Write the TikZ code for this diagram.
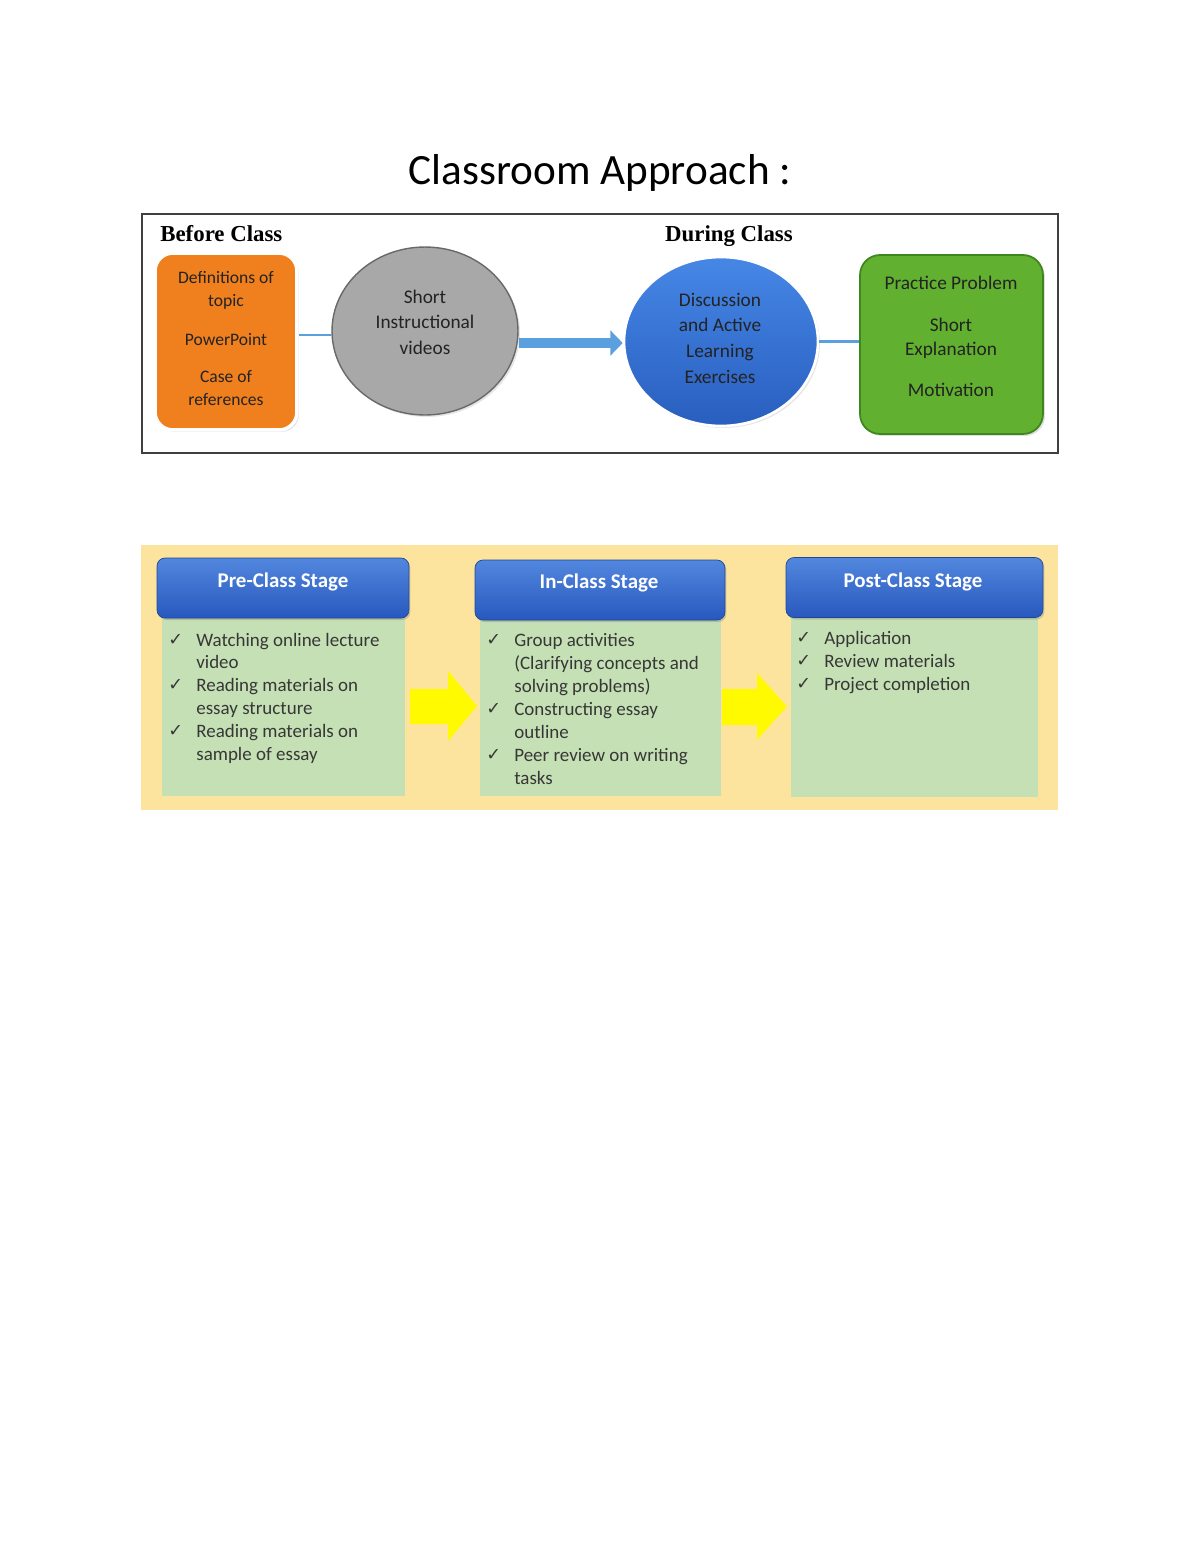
\documentclass[tikz,border=0pt]{standalone}
\usepackage{fontspec}
\setmainfont{Carlito}
\newfontfamily\serifb{Liberation Serif}
\newfontfamily\djv{DejaVu Sans}
\usetikzlibrary{shapes.geometric,arrows.meta,shadows}
\definecolor{orangebox}{RGB}{240,128,30}
\definecolor{grayell}{RGB}{168,168,168}
\definecolor{grayedge}{RGB}{105,105,105}
\definecolor{blueell}{RGB}{45,105,212}
\definecolor{blueelltop}{RGB}{70,135,230}
\definecolor{greenbox}{RGB}{98,176,48}
\definecolor{greenedge}{RGB}{62,135,30}
\definecolor{linkblue}{RGB}{90,160,222}
\definecolor{bgyellow}{RGB}{253,228,158}
\definecolor{bodygreen}{RGB}{197,224,180}
\definecolor{headtop}{RGB}{82,135,222}
\definecolor{headbot}{RGB}{40,88,190}
\definecolor{arrowyellow}{RGB}{255,250,0}
\definecolor{txt}{RGB}{35,35,35}
\definecolor{itemtxt}{RGB}{55,55,55}
\begin{document}
\begin{tikzpicture}[x=0.02cm,y=-0.02cm,
  tl/.style={inner sep=0,anchor=base,text=txt,font=\fontsize{11}{13}\selectfont},
  tlo/.style={tl,font=\fontsize{10}{12}\selectfont},
  stagehead/.style={inner sep=0,anchor=base,text=white,font=\fontsize{11.9}{14}\selectfont\bfseries},
  item/.style={inner sep=0,anchor=base west,text=itemtxt,font=\fontsize{10.8}{13}\selectfont},
  chk/.style={inner sep=0,anchor=base west,text=itemtxt,font=\djv\fontsize{10}{12}\selectfont},
  hdr/.style={rounded corners=0.16cm,top color=headtop,bottom color=headbot,draw=headbot!80!black,line width=0.4pt,drop shadow={opacity=0.35,shadow xshift=0.3mm,shadow yshift=-0.4mm},minimum height=1.2cm,inner sep=0},
  body/.style={fill=bodygreen,inner sep=0,minimum height=3.56cm},
  yarrow/.style={fill=arrowyellow}
]
\useasboundingbox (0,0) rectangle (1200,1553);

% title
\node[inner sep=0,anchor=base,font=\fontsize{24.6}{29}\selectfont] (title) at (600,184) {Classroom Approach :};

% ---------- top frame ----------
\draw[line width=0.8pt,draw=black!75] (142,214) rectangle (1058,453);
\node[inner sep=0,anchor=base west,font=\serifb\bfseries\fontsize{13}{15}\selectfont] (before) at (160,241) {Before Class};
\node[inner sep=0,anchor=base,font=\serifb\bfseries\fontsize{13}{15}\selectfont] (during) at (729,241) {During Class};

\node[rounded corners=0.36cm,fill=orangebox,draw=white,line width=2pt,minimum width=2.84cm,minimum height=3.54cm,inner sep=0,drop shadow={opacity=0.25,shadow xshift=0.4mm,shadow yshift=-0.4mm}] (defs) at (226,341.5) {};
\node[tlo] (d1) at (226,283) {Definitions of};
\node[tlo] (d2) at (226,306) {topic};
\node[tlo] (d3) at (226,345) {PowerPoint};
\node[tlo] (d4) at (226,382) {Case of};
\node[tlo] (d5) at (226,405) {references};

\node[ellipse,fill=grayell,draw=grayedge,line width=0.8pt,minimum width=3.72cm,minimum height=3.36cm,inner sep=0,drop shadow={opacity=0.2,shadow xshift=0.4mm,shadow yshift=-0.4mm}] (vid) at (425,331) {};
\node[tl] (v1) at (425,303) {Short};
\node[tl] (v2) at (425,328) {Instructional};
\node[tl] (v3) at (425,354) {videos};

\node[ellipse,top color=blueelltop,bottom color=blueell!90!black,draw=white,line width=1.5pt,minimum width=3.88cm,minimum height=3.38cm,inner sep=0,drop shadow={opacity=0.2,shadow xshift=0.4mm,shadow yshift=-0.4mm}] (disc) at (721,341.5) {};
\node[tl] (b1) at (720,306) {Discussion};
\node[tl] (b2) at (720,331) {and Active};
\node[tl] (b3) at (720,357) {Learning};
\node[tl] (b4) at (720,383) {Exercises};

\node[rounded corners=0.4cm,fill=greenbox,draw=greenedge,line width=1pt,minimum width=3.66cm,minimum height=3.58cm,inner sep=0,drop shadow={opacity=0.25,shadow xshift=0.4mm,shadow yshift=-0.4mm}] (prac) at (951.5,344.5) {};
\node[tl] (g1) at (951,289) {Practice Problem};
\node[tl] (g2) at (951,331) {Short};
\node[tl] (g3) at (951,355) {Explanation};
\node[tl] (g4) at (951,396) {Motivation};

% connectors
\draw[linkblue,line width=1.6pt] (defs.east |- 0,335) -- (vid.west |- 0,335);
\draw[linkblue,line width=6pt,-{Triangle[length=7pt,width=14pt]}] (vid.east |- 0,343) -- (disc.west |- 0,343);
\draw[linkblue,line width=1.6pt] (disc.east) -- (prac.west |- disc.east);

% ---------- bottom panel ----------
\fill[bgyellow] (141,545) rectangle (1058,810);

\node[body,minimum width=4.86cm] (body1) at (283.5,707) {};
\node[body,minimum width=4.82cm,minimum height=3.52cm] (body2) at (600.5,708) {};
\node[body,minimum width=4.94cm,minimum height=3.6cm] (body3) at (914.5,707) {};

\node[hdr,minimum width=5.04cm] (head1) at (283,588) {};
\node[hdr,minimum width=5.0cm] (head2) at (600,590) {};
\node[hdr,minimum width=5.14cm] (head3) at (914.5,587.5) {};

\node[stagehead] (h1) at (283,587) {Pre-Class Stage};
\node[stagehead] (h2) at (599,588) {In-Class Stage};
\node[stagehead] (h3) at (913,587) {Post-Class Stage};

% yellow block arrows between the stage columns
\fill[yarrow] (410,689) -- (448,689) -- (448,671) -- (477,706) -- (448,741) -- (448,724) -- (410,724) -- cycle;
\fill[yarrow] (722,689) -- (757,689) -- (757,673) -- (787,706.5) -- (757,740) -- (757,725) -- (722,725) -- cycle;

% column 1 items
\node[chk] (c1a) at (168,645) {✓};
\node[item] (p1a) at (196,646) {Watching online lecture};
\node[item] (p1b) at (196,668) {video};
\node[chk] (c1b) at (168,690) {✓};
\node[item] (p1c) at (196,691) {Reading materials on};
\node[item] (p1d) at (196,714) {essay structure};
\node[chk] (c1c) at (168,736) {✓};
\node[item] (p1e) at (196,737) {Reading materials on};
\node[item] (p1f) at (196,760) {sample of essay};

% column 2 items
\node[chk] (c2a) at (486,645) {✓};
\node[item] (p2a) at (514,646) {Group activities};
\node[item] (p2b) at (514,669) {(Clarifying concepts and};
\node[item] (p2c) at (514,692) {solving problems)};
\node[chk] (c2b) at (486,714) {✓};
\node[item] (p2d) at (514,715) {Constructing essay};
\node[item] (p2e) at (514,738) {outline};
\node[chk] (c2c) at (486,760) {✓};
\node[item] (p2f) at (514,761) {Peer review on writing};
\node[item] (p2g) at (514,784) {tasks};

% column 3 items
\node[chk] (c3a) at (796,643) {✓};
\node[item] (p3a) at (824,644) {Application};
\node[chk] (c3b) at (796,666) {✓};
\node[item] (p3b) at (824,667) {Review materials};
\node[chk] (c3c) at (796,689) {✓};
\node[item] (p3c) at (824,690) {Project completion};
\end{tikzpicture}
\end{document}
